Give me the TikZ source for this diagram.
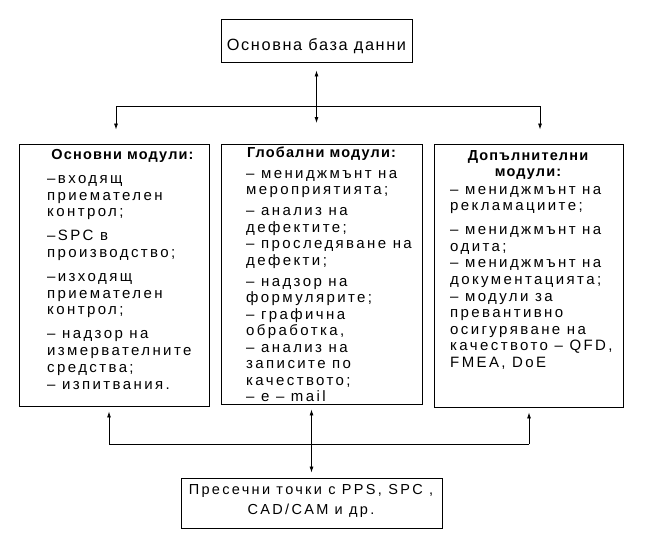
\documentclass[tikz,border=0pt]{standalone}
\usepackage{fontspec}
\setmainfont{Liberation Sans}
\newfontfamily\bodyfont[LetterSpace=16]{Liberation Sans}
\newfontfamily\headfont[LetterSpace=8]{Liberation Sans}
\newfontfamily\dbfont[LetterSpace=10]{Liberation Sans}
\usetikzlibrary{arrows.meta,positioning}

\begin{document}
\begin{tikzpicture}[x=1pt,y=-1pt,box/.style={draw,line width=.9pt,inner sep=0pt},body/.style={anchor=base west,align=left,inner sep=0pt,font={\bodyfont\fontsize{15pt}{#1}\selectfont}},head/.style={anchor=base,align=center,inner sep=0pt,font={\headfont\bfseries\fontsize{14.5pt}{16.7pt}\selectfont}},a/.style={-{Latex[length=6pt,width=4pt]},line width=.8pt},aa/.style={{Latex[length=6pt,width=4pt]}-{Latex[length=6pt,width=4pt]},line width=.8pt}]
\useasboundingbox (0,0) rectangle (652,542);
\node[box,minimum width=191pt,minimum height=43pt] (db) at (316.5,40.5) {};
\node[anchor=base,inner sep=0pt,font={\dbfont\fontsize{16.3pt}{18pt}\selectfont}] (dbtxt) at (316.5,50) {Основна база данни};
\node[box,minimum width=190pt,minimum height=262pt] (basic) at (114,275) {};
\node[box,minimum width=201pt,minimum height=260pt] (global) at (321.5,274) {};
\node[box,minimum width=189pt,minimum height=263pt] (extra) at (528.5,275.5) {};
\node[box,minimum width=261pt,minimum height=50pt] (inter) at (311.5,503) {};
\node[head] (basichd) at (122.5,159.5) {Основни модули:};
\node[head] (globalhd) at (321.5,157.5) {Глобални модули:};
\node[head] (extrahd) at (528,176.7) {Допълнителни\\модули:};
\node[body=16.7pt] (basictxt) at (47,389) {–входящ\\приемателен\\контрол;\\[7.3pt]–SPC в\\производство;\\[7.3pt]–изходящ\\приемателен\\контрол;\\[7.3pt]– надзор на\\измервателните\\средства;\\– изпитвания.};
\node[body=16.5pt] (globaltxt) at (246,401.5) {– мениджмънт на\\мероприятията;\\[4.5pt]– анализ на\\дефектите;\\– проследяване на\\дефекти;\\[4.5pt]– надзор на\\формулярите;\\– графична\\обработка,\\– анализ на\\записите по\\качеството;\\– е – mail};
\node[body=16.6pt] (extratxt) at (450,367.4) {– мениджмънт на\\рекламациите;\\[7.4pt]– мениджмънт на\\одита;\\– мениджмънт на\\документацията;\\– модули за\\превантивно\\осигуряване на\\качеството – QFD,\\FMEA, DoE};
\node[anchor=base,align=center,inner sep=0pt,font={\bodyfont\fontsize{14.5pt}{19.7pt}\selectfont}] (intertxt) at (311,514) {Пресечни точки с PPS, SPC ,\\CAD/CAM и др.};
\coordinate (tl) at (116,106); \coordinate (tr) at (540,106);
\coordinate (bl) at (109,444); \coordinate (br) at (529,444);
\draw[line width=.8pt] (tl) -- (tr);
\draw[a,shorten >=14pt] (tl) -- (tl |- basic.north);
\draw[a,shorten >=14pt] (tr) -- (tr |- extra.north);
\draw[aa,shorten <=8pt] (db.south) -- ([yshift=-17pt]db.south |- tl);
\draw[line width=.8pt] (bl) -- (br);
\draw[a,shorten >=5pt] (bl) -- (bl |- basic.south);
\draw[a,shorten >=5pt] (br) -- (br |- extra.south);
\draw[aa,shorten <=5pt,shorten >=5pt] (inter.north) -- (inter.north |- global.south);
\end{tikzpicture}
\end{document}
